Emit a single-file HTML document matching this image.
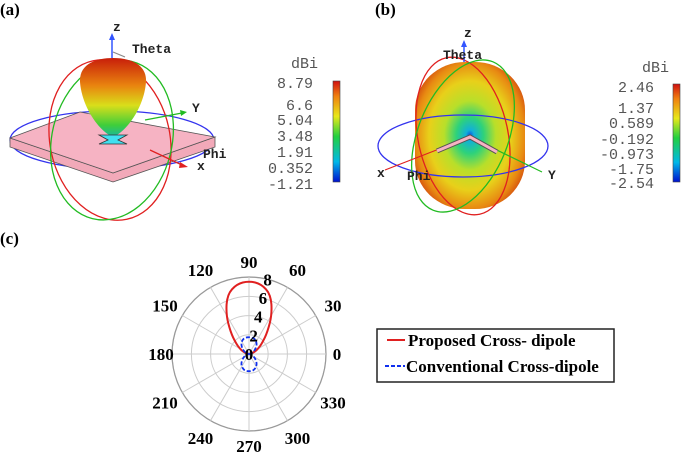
<!DOCTYPE html>
<html><head><meta charset="utf-8"><style>
body{margin:0;background:#fff;width:685px;height:457px;overflow:hidden}
svg{display:block}
.lab{font-family:"Liberation Serif",serif;font-weight:bold;font-size:17px}
.mono{font-family:"Liberation Mono",monospace;font-size:15px;fill:#555}
.ax{font-family:"Liberation Mono",monospace;font-weight:bold;font-size:13px;fill:#222}
</style></head><body>
<svg id="fig" width="685" height="457" viewBox="0 0 685 457">
<defs>
<linearGradient id="lobeA" x1="0" y1="0" x2="0" y2="1">
<stop offset="0" stop-color="#c81e0a"/><stop offset="0.35" stop-color="#e9840f"/><stop offset="0.6" stop-color="#d9de1a"/><stop offset="0.85" stop-color="#3fce3a"/><stop offset="1" stop-color="#18b6a0"/></linearGradient>
<radialGradient id="bodyB" cx="0.5" cy="0.5" r="0.62">
<stop offset="0" stop-color="#0a4ee0"/><stop offset="0.06" stop-color="#12b0d8"/><stop offset="0.2" stop-color="#2ed27a"/><stop offset="0.38" stop-color="#b8df2a"/><stop offset="0.6" stop-color="#e8d01a"/><stop offset="0.8" stop-color="#e88a12"/><stop offset="1" stop-color="#c5200c"/></radialGradient>
<linearGradient id="cbar" x1="0" y1="1" x2="0" y2="0">
<stop offset="0" stop-color="#0010d0"/><stop offset="0.2" stop-color="#00b8e8"/><stop offset="0.45" stop-color="#22d040"/><stop offset="0.65" stop-color="#e8e81a"/><stop offset="0.85" stop-color="#f08010"/><stop offset="1" stop-color="#d01010"/></linearGradient>
</defs>

<g>
<text class="lab" x="0" y="15">(a)</text>
<ellipse cx="112" cy="140" rx="102" ry="29" fill="none" stroke="#3333ee" stroke-width="1.3"/>
<polygon points="10,138 10,147 113,182 215,147 215,137 113,173" fill="#f2a9b9" stroke="#555" stroke-width="0.8"/>
<polygon points="10,138 80,112 215,137 113,173" fill="#f6b3c3" stroke="#555" stroke-width="0.8"/>
<ellipse cx="110" cy="140" rx="60" ry="81" fill="none" stroke="#e02020" stroke-width="1.3" transform="rotate(-12 110 140)"/>
<ellipse cx="112" cy="140" rx="60" ry="81" fill="none" stroke="#22bb22" stroke-width="1.3" transform="rotate(14 112 140)"/>
<path d="M113,137 C100,132 82,108 80,82 C79,64 96,58 113,58 C130,58 147,64 146,82 C144,108 126,132 113,137 Z" fill="url(#lobeA)"/>
<polygon points="99,135 127,135 118,140 127,144 99,144 108,140" fill="#40e0f0" stroke="#333" stroke-width="0.8"/>
<line x1="112" y1="58" x2="112" y2="38" stroke="#3355ff" stroke-width="1.5"/><polygon points="109,40 115,40 112,33" fill="#3355ff"/>
<text class="ax" x="113" y="31">z</text>
<line x1="113" y1="52" x2="125" y2="57" stroke="#888" stroke-width="1.2"/>
<text class="ax" x="132" y="53">Theta</text>
<line x1="145" y1="120" x2="182" y2="113" stroke="#22bb22" stroke-width="1.3"/><polygon points="180,110 187,112 181,116" fill="#22bb22"/>
<text class="ax" x="192" y="112">Y</text>
<line x1="150" y1="150" x2="182" y2="165" stroke="#e02020" stroke-width="1.3"/><polygon points="180,162 188,167 179,168" fill="#e02020"/>
<text class="ax" x="197" y="170">x</text>
<text class="ax" x="203" y="158">Phi</text>
<text class="mono" x="318" y="68" text-anchor="end">dBi</text>
<rect x="333" y="81" width="7" height="101" fill="url(#cbar)" stroke="#444" stroke-width="0.6"/>
<g class="mono" text-anchor="end">
<text x="313" y="88">8.79</text><text x="313" y="110">6.6</text><text x="313" y="125">5.04</text><text x="313" y="141">3.48</text><text x="313" y="157">1.91</text><text x="313" y="173">0.352</text><text x="313" y="189">-1.21</text></g>
</g>

<g>
<text class="lab" x="375" y="15">(b)</text>
<rect x="415" y="62" width="110" height="147" rx="50" ry="48" fill="url(#bodyB)"/>
<ellipse cx="463" cy="146" rx="85" ry="31" fill="none" stroke="#3333ee" stroke-width="1.3"/>
<ellipse cx="463" cy="136" rx="45" ry="80" fill="none" stroke="#e02020" stroke-width="1.3" transform="rotate(-12 463 136)"/>
<ellipse cx="463" cy="136" rx="45" ry="80" fill="none" stroke="#22bb22" stroke-width="1.3" transform="rotate(22 463 136)"/>
<line x1="470" y1="137" x2="385" y2="170" stroke="#e02020" stroke-width="1.2"/>
<line x1="470" y1="137" x2="542" y2="172" stroke="#22bb22" stroke-width="1.2"/>
<polyline points="437,151 470,137 497,152" fill="none" stroke="#555" stroke-width="5"/>
<polyline points="437,151 470,137 497,152" fill="none" stroke="#f6b3c3" stroke-width="3"/>
<line x1="464" y1="62" x2="464" y2="46" stroke="#3355ff" stroke-width="1.5"/><polygon points="461,47 467,47 464,40" fill="#3355ff"/>
<text class="ax" x="464" y="37">z</text>
<text class="ax" x="443" y="59">Theta</text>
<text class="ax" x="377" y="177">x</text>
<text class="ax" x="407" y="180">Phi</text>
<text class="ax" x="548" y="179">Y</text>
<text class="mono" x="669" y="72" text-anchor="end">dBi</text>
<rect x="673" y="84" width="7" height="98" fill="url(#cbar)" stroke="#444" stroke-width="0.6"/>
<g class="mono" text-anchor="end">
<text x="654" y="92">2.46</text><text x="654" y="113">1.37</text><text x="654" y="128">0.589</text><text x="654" y="144">-0.192</text><text x="654" y="159">-0.973</text><text x="654" y="174">-1.75</text><text x="654" y="188">-2.54</text></g>
</g>

<text class="lab" x="0" y="244">(c)</text>
<g id="polar"></g>
<g>
<rect x="377" y="329" width="237" height="53" fill="#fff" stroke="#222" stroke-width="1.5"/>
<line x1="387" y1="340" x2="405" y2="340" stroke="#e02020" stroke-width="2"/>
<text class="lab" x="408" y="346" font-size="16">Proposed Cross- dipole</text>
<line x1="385" y1="366" x2="405" y2="366" stroke="#1030ee" stroke-width="2" stroke-dasharray="4,2"/>
<text class="lab" x="406" y="372" font-size="16">Conventional Cross-dipole</text>
</g>
</svg>
<script>
const angles=[0,10,20,30,40,50,60,70,80,90,100,110,120,130,140,150,160,170,180,190,200,210,220,230,240,250,260,270,280,290,300,310,320,330,340,350];
const proposed=[0,0.2,0.6,1.1,1.8,3.0,4.8,6.6,7.4,7.6,7.4,6.6,4.8,3.0,1.8,1.1,0.6,0.2,0,0,0,0,0,0,0,0,0,0,0,0,0,0,0,0,0,0];
const conventional=[0,0.15,0.35,0.6,0.9,1.25,1.5,1.7,1.75,1.75,1.75,1.7,1.5,1.25,0.9,0.6,0.35,0.15,0,0.15,0.35,0.6,0.9,1.25,1.5,1.7,1.8,1.8,1.8,1.7,1.5,1.25,0.9,0.6,0.35,0.15];
const rTicks=[0,2,4,6,8];
const angleTicks=[0,30,60,90,120,150,180,210,240,270,300,330];
const NS='http://www.w3.org/2000/svg';
const cx=249,cy=354,scale=9.6,outer=77;
const g=document.getElementById('polar');
function px(a,v){const t=a*Math.PI/180;return [cx+v*scale*Math.cos(t),cy-v*scale*Math.sin(t)];}
function mk(tag,at){const e=document.createElementNS(NS,tag);for(const k in at)e.setAttribute(k,at[k]);g.appendChild(e);return e;}
rTicks.slice(1).forEach(v=>{const c=mk('circle',{cx:cx,cy:cy,r:v*scale,fill:'none',stroke:'#ccc','stroke-width':1});

});
const oc=mk('circle',{cx:cx,cy:cy,r:outer,fill:'none',stroke:'#999','stroke-width':1.2});


angleTicks.forEach(a=>{const t=a*Math.PI/180;
const l=mk('line',{x1:cx,y1:cy,x2:cx+outer*Math.cos(t),y2:cy-outer*Math.sin(t),stroke:'#ccc','stroke-width':1});


const rr=(a%180===0)?88:(a%90===0?92:97);
const tx=mk('text',{x:cx+rr*Math.cos(t),y:cy-rr*Math.sin(t)+6,'text-anchor':'middle',class:'lab'});
tx.textContent=a;

});
function path(vals){const pts=vals.map((v,i)=>px(angles[i],v));const n=pts.length;
const mid=i=>{const a=pts[i%n],b=pts[(i+1)%n];return [(a[0]+b[0])/2,(a[1]+b[1])/2];};
let m=mid(n-1);let d='M'+m[0].toFixed(1)+','+m[1].toFixed(1);
for(let i=0;i<n;i++){const p=pts[i],q=mid(i);d+='Q'+p[0].toFixed(1)+','+p[1].toFixed(1)+' '+q[0].toFixed(1)+','+q[1].toFixed(1);}
return d+'Z';}
const pr=mk('path',{d:path(proposed),fill:'none',stroke:'#e02020','stroke-width':2,'stroke-linejoin':'round'});


const cv=mk('path',{d:path(conventional),fill:'none',stroke:'#1030ee','stroke-width':1.8,'stroke-dasharray':'4,2'});


rTicks.forEach(v=>{const p=px(76,v);const t=mk('text',{x:p[0],y:p[1]+6,'text-anchor':'middle',class:'lab'});
t.textContent=v;

});
</script>
</body></html>
